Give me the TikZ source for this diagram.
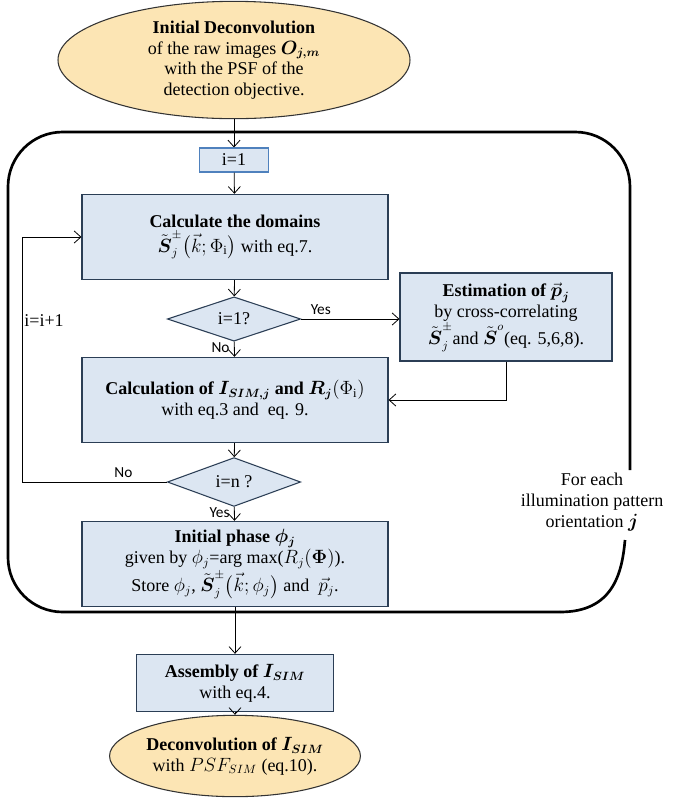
\documentclass[tikz,border=0pt]{standalone}
\usepackage{amsmath}
\usepackage{fontspec}
\setmainfont{Liberation Serif}
\newfontfamily\labelfont{Carlito}
\usepackage{tikz}
\usetikzlibrary{arrows.meta,positioning,calc,shapes.geometric}

\definecolor{boxfill}{HTML}{DCE6F2}
\definecolor{boxedge}{HTML}{2B3E55}
\definecolor{ovalfill}{HTML}{FCE5B4}
\definecolor{startedge}{HTML}{4F81BD}

\begin{document}
\begin{tikzpicture}[x=0.75pt,y=-0.75pt,
  font=\fontsize{13.5}{15.5}\selectfont,
  >={Straight Barb[length=5pt,width=9pt]},
  stage/.style={draw=boxedge,fill=boxfill,thick,align=center,inner sep=1pt,
     minimum width=229.5pt,minimum height=64pt},
  oval/.style={ellipse,draw=black!80,fill=ovalfill,thick,align=center,inner sep=0pt},
  test/.style={diamond,draw=boxedge,fill=boxfill,thick,inner sep=0pt,
     minimum width=100pt,minimum height=30pt},
  answer/.style={font=\labelfont\fontsize{11.5}{12}\selectfont},
  flow/.style={->,semithick}]
\useasboundingbox (0,0) rectangle (685,808);

% The nodes
\node (init) [oval,minimum width=264pt,minimum height=88pt] at (234,60)
  {\textbf{Initial Deconvolution}\\of the raw images $\boldsymbol{O_{j,m}}$\\with the PSF of the\\detection objective.};
\node (start) [draw=startedge,fill=boxfill,thick,minimum width=52pt,minimum height=18pt,inner sep=0pt] at (234,160) {i=1};
\node (domains) [stage] at (235,237)
  {\textbf{Calculate the domains}\\[2pt]$\tilde{\boldsymbol{S}}_j^{\pm}\bigl(\vec{k};\Phi_{\mathrm{i}}\bigr)$ with eq.7.};
\node (first) [test] at (234,319) {i=1?};
\node (estim) [stage,minimum width=159pt,minimum height=66pt] at (506,317)
  {\textbf{Estimation of} $\vec{\boldsymbol{p}}_{\boldsymbol{j}}$\\by cross-correlating\\[1pt]$\tilde{\boldsymbol{S}}_j^{\pm}$and $\tilde{\boldsymbol{S}}^{o}$(eq. 5,6,8).};
\node (calc) [stage] at (235,400)
  {\textbf{Calculation of} $\boldsymbol{I_{SIM,j}}$ \textbf{and} $\boldsymbol{R_j}(\Phi_{\mathrm{i}})$\\with eq.3 and\ \ eq. 9.};
\node (last) [test] at (234,482) {i=n ?};
\node (phase) [stage] at (235,564)
  {\textbf{Initial phase} $\boldsymbol{\phi_j}$\\given by $\phi_j$=arg max($R_j(\boldsymbol{\Phi})$).\\[1pt]Store $\phi_j$, $\tilde{\boldsymbol{S}}_j^{\pm}\bigl(\vec{k};\phi_j\bigr)$ and\ \ $\vec{p}_j$.};
\node (assembly) [stage,minimum width=148pt,minimum height=43pt] at (235,683)
  {\textbf{Assembly of} $\boldsymbol{I_{SIM}}$\\with eq.4.};
\node (final) [oval,minimum width=186pt,minimum height=61pt] at (235,756)
  {\textbf{Deconvolution of} $\boldsymbol{I_{SIM}}$\\with $PSF_{SIM}$ (eq.10).};

% The loop frame
\node (orient) [align=center] at (592,502) {For each\\illumination pattern\\orientation $\boldsymbol{j}$};
\draw [line width=2pt,rounded corners=41pt]
  (630,470) -- (630,132) -- (8,132) -- (8,612) -- (560,612);
\draw [line width=2pt] (560,612) .. controls (612,612) and (622,575) .. (625,540);

% The connectors
\coordinate (back) at (22,482);
\coordinate (bend) at (estim.south |- calc.east);
\draw [flow] (init) -- (start);
\draw [flow] (start) -- (domains);
\draw [flow] (domains) -- (first);
\draw [flow] (first) -- node [answer,above,pos=0.2] {Yes} (estim.west |- first.east);
\draw [flow] (first) -- node [answer,left,pos=0.4] {No} (calc);
\draw [flow] (estim.south) -- (bend) -- (calc.east);
\draw [flow] (calc) -- (last);
\draw [flow] (last.west) -- node [answer,above,pos=0.3] {No} (back) |- (domains.west);
\node (count) at (44,321) {i=i+1};
\draw [flow] (last) -- node [answer,left,pos=0.4] {Yes} (phase);
\draw [flow] (phase) -- (assembly);
\draw [flow] (assembly) -- (final);
\end{tikzpicture}
\end{document}
